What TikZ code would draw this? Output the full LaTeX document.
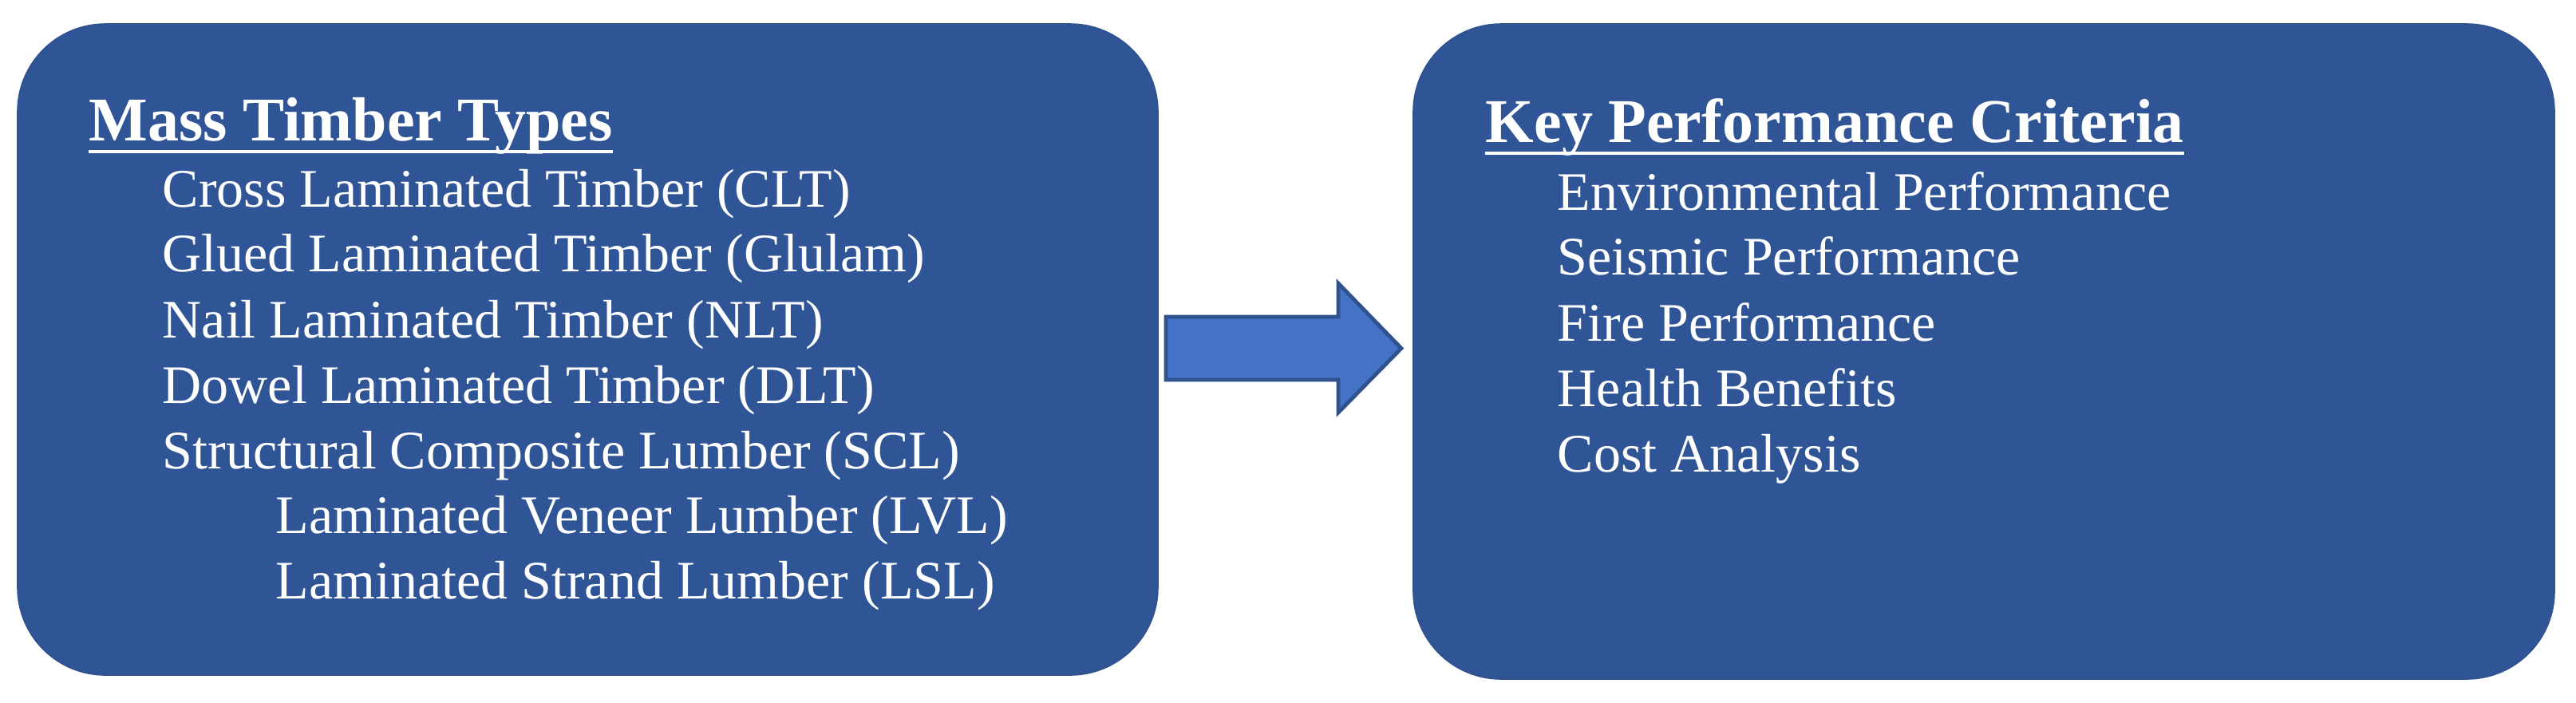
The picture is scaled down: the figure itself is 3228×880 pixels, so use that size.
\documentclass[tikz,border=0pt]{standalone}
\usepackage{fontspec}
\setmainfont{Liberation Serif}
\definecolor{boxblue}{HTML}{2F5597}
\definecolor{boxedge}{HTML}{2F528F}
\definecolor{arrowblue}{HTML}{4472C4}
\tikzset{
  box/.style={draw=boxedge, line width=0.4pt, fill=boxblue, rounded corners=27.5pt, inner sep=0pt},
  head/.style={anchor=base west, inner sep=0pt, text=white, font=\fontsize{19.5pt}{22pt}\selectfont\bfseries},
  item/.style={anchor=base west, inner sep=0pt, text=white, font=\fontsize{17pt}{20pt}\selectfont},
  uline/.style={draw=white, line width=1pt},
  blockarrow/.style={draw=boxedge, line width=1.2pt, fill=arrowblue, line join=miter}
}
\begin{document}
\begin{tikzpicture}[x=0.25pt,y=-0.25pt]
\useasboundingbox (0,0) rectangle (3228,880);
% boxes
\node[box, minimum width=357.25pt, minimum height=204pt] (L) at (736.5,438) {};
\node[box, minimum width=357.5pt, minimum height=205.25pt] (R) at (2486,440.5) {};
% block arrow
\draw[blockarrow] (1461,397) -- (1677,397) -- (1677,355) -- (1756,436.5) -- (1677,517) -- (1677,476) -- (1461,476) -- cycle;
% left texts
\node[head] (lh) at (111,176) {Mass Timber Types};
\draw[uline] ([yshift=-3.6pt]lh.base west) -- ([yshift=-3.6pt]lh.base east);
\node[item] (l1) at (203,259.5) {Cross Laminated Timber (CLT)};
\node[item] (l2) at (203,340.5) {Glued Laminated Timber (Glulam)};
\node[item] (l3) at (203,423) {Nail Laminated Timber (NLT)};
\node[item] (l4) at (203,505) {Dowel Laminated Timber (DLT)};
\node[item] (l5) at (203,587) {Structural Composite Lumber (SCL)};
\node[item] (l6) at (345,668.5) {Laminated Veneer Lumber (LVL)};
\node[item] (l7) at (345,750) {Laminated Strand Lumber (LSL)};
% right texts
\node[head] (rh) at (1861,178) {Key Performance Criteria};
\draw[uline] ([yshift=-3.6pt]rh.base west) -- ([yshift=-3.6pt]rh.base east);
\node[item] (r1) at (1951,263) {Environmental Performance};
\node[item] (r2) at (1951,344) {Seismic Performance};
\node[item] (r3) at (1951,427) {Fire Performance};
\node[item] (r4) at (1951,509) {Health Benefits};
\node[item] (r5) at (1951,591) {Cost Analysis};
\end{tikzpicture}
\end{document}
